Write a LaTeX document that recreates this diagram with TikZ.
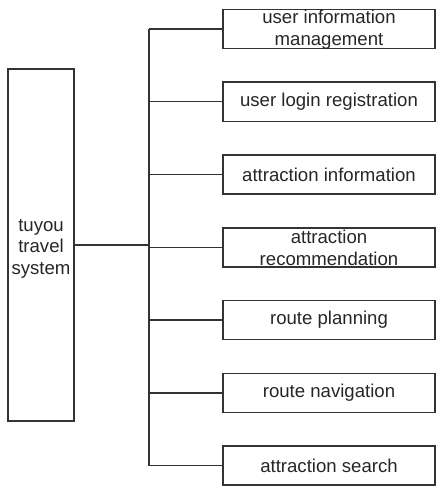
\documentclass[tikz,border=0pt]{standalone}
\usepackage{fontspec}
\setmainfont{Liberation Sans}
\usetikzlibrary{positioning}

\begin{document}
\begin{tikzpicture}
          [every node/.style={draw=black!80, line width=1.5pt, text=black!85, outer sep=0pt,
             font=\fontsize{18.6}{22}\selectfont},
           modbox/.style={minimum width=212pt, minimum height=39pt, inner sep=0pt},
           twoline/.style={label={[draw=none, align=center, yshift=-1pt]center:#1}},
           node distance=33.75pt]
          \useasboundingbox (0,0) rectangle (444pt,-492pt);

          \node (sys) [minimum width=66pt, minimum height=352pt, inner sep=0pt,
                label={[draw=none, align=center, yshift=-3.5pt,
                  font=\fontsize{18.6}{21.5}\selectfont]center:tuyou\\travel\\system}]
                at (41pt,-245pt) {};

          \node (m1) [modbox, twoline={user information\\management}] at (329pt,-29pt) {};
          \node (m2) [modbox, below = of m1] {user login registration};
          \node (m3) [modbox, below = of m2] {attraction information};
          \node (m4) [modbox, below = of m3, twoline={attraction\\recommendation}] {};
          \node (m5) [modbox, below = of m4] {route planning};
          \node (m6) [modbox, below = of m5] {route navigation};
          \node (m7) [modbox, below = of m6] {attraction search};

          \coordinate (bus) at (149pt,0);

          \draw[black!80, line width=1.5pt] (sys.east) -- (sys.east -| bus);
          \draw[black!80, line width=1.5pt] (m1.west -| bus) -- (m7.west -| bus);
          \foreach \m in {m1,m2,m3,m4,m5,m6,m7}
            \draw[black!80, line width=1.5pt] (\m.west) -- (\m.west -| bus);

        \end{tikzpicture}
\end{document}
